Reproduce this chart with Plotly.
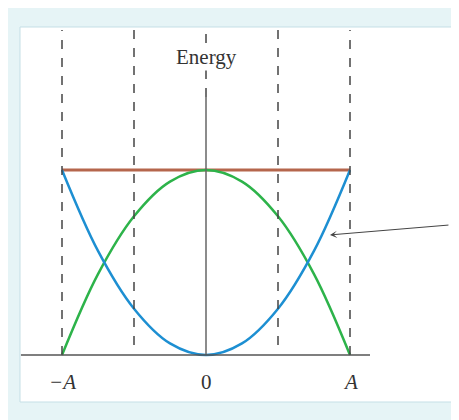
import plotly.graph_objects as go

# positions in units of amplitude A, energies in units of total energy E
x_pos = [-1.0, -0.75, -0.5, -0.25, 0.0, 0.25, 0.5, 0.75, 1.0]
potential = [1.0, 0.5625, 0.25, 0.0625, 0.0, 0.0625, 0.25, 0.5625, 1.0]
kinetic = [0.0, 0.4375, 0.75, 0.9375, 1.0, 0.9375, 0.75, 0.4375, 0.0]
total = [1.0, 1.0, 1.0, 1.0, 1.0, 1.0, 1.0, 1.0, 1.0]
guide_x = [-1.0, -0.5, 0.0, 0.5, 1.0]
tick_vals = [-1.0, 0.0, 1.0]
tick_text = ["<i>−A</i>", "0", "<i>A</i>"]

fig = go.Figure()

shapes = [
    dict(type="rect", xref="paper", yref="paper", x0=12 / 451, x1=447 / 451,
         y0=18 / 412, y1=393 / 412, fillcolor="white",
         line=dict(color="#c5dfe6", width=1), layer="below"),
]
for gx in guide_x:
    bottom = 0.0 if abs(gx) == 1.0 else 0.054
    if gx == 0.0:
        bottom = 1.395
    shapes.append(dict(type="line", x0=gx, x1=gx, y0=bottom, y1=1.757,
                       line=dict(color="#444", width=1.5, dash="dash")))
shapes.append(dict(type="line", x0=0, x1=0, y0=0, y1=1.395,
                   line=dict(color="#666", width=1.5)))
shapes.append(dict(type="line", x0=-1.285, x1=1.139, y0=0, y1=0,
                   line=dict(color="#555", width=1.5)))

fig.add_trace(go.Scatter(x=x_pos, y=total, mode="lines",
                         line=dict(color="#b5664c", width=3)))
fig.add_trace(go.Scatter(x=x_pos, y=kinetic, mode="lines", line_shape="spline",
                         line=dict(color="#2db34a", width=2.5)))
fig.add_trace(go.Scatter(x=x_pos, y=potential, mode="lines", line_shape="spline",
                         line=dict(color="#1d8fd2", width=2.5)))

annotations = [
    dict(x=tv, y=-0.146, text=tt, showarrow=False,
         font=dict(family="Liberation Serif", size=21, color="#333"))
    for tv, tt in zip(tick_vals, tick_text)
]
annotations.append(dict(x=0, y=1.611, text="Energy", showarrow=False, bgcolor="white",
                        font=dict(family="Liberation Serif", size=21, color="#333")))
annotations.append(dict(x=0.861, y=0.649, ax=1.694, ay=0.703, xref="x", yref="y",
                        axref="x", ayref="y", text="", showarrow=True, arrowhead=3,
                        arrowsize=1.2, arrowwidth=1, arrowcolor="#444"))

fig.update_layout(
    width=451, height=412, margin=dict(l=0, r=0, t=0, b=0),
    paper_bgcolor="#e6f4f6", plot_bgcolor="rgba(0,0,0,0)",
    showlegend=False, shapes=shapes, annotations=annotations,
    xaxis=dict(range=[-1.375, 1.7569], visible=False, fixedrange=True),
    yaxis=dict(range=[-0.3514, 1.8757], visible=False, fixedrange=True),
)
fig.write_html("out.html")
